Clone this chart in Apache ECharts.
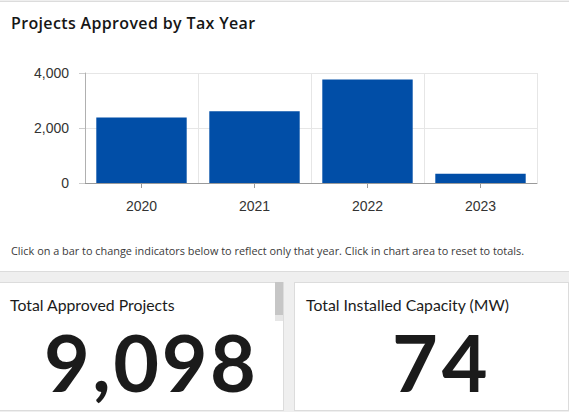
<!DOCTYPE html>
<html>
<head>
<meta charset="utf-8">
<script src="https://cdn.jsdelivr.net/npm/echarts@6/dist/echarts.min.js"></script>
<style>
  html, body { margin: 0; padding: 0; }
  body { width: 569px; height: 412px; background: #efefef; position: relative; overflow: hidden; font-family: Lato, "Noto Sans", sans-serif; color: #1b1b1b; }
  .panel { position: absolute; background: #fff; box-sizing: border-box; border: 1px solid #dcdcdc; }
  #top { left: -1px; top: 1px; width: 571px; height: 271px; }
  #title { position: absolute; left: 11px; top: 9.6px; font-family: "Open Sans", Lato, sans-serif; font-size: 16px; letter-spacing: 0.35px; font-weight: 600; white-space: nowrap; color: #161616; }
  #chart { position: absolute; left: 0; top: 0; width: 569px; height: 240px; }
  #note { position: absolute; left: 11px; top: 241.3px; font-family: "Open Sans", Lato, sans-serif; font-size: 10.9px; color: #3a3a3a; white-space: nowrap; }
  #left { left: -1px; top: 282px; width: 285px; height: 129px; }
  #right { left: 294px; top: 282px; width: 275px; height: 129px; }
  .ptitle { position: absolute; top: 13px; font-size: 15.8px; line-height: 1.2; white-space: nowrap; }
  .big { position: absolute; top: 39px; font-size: 79px; font-weight: 700; line-height: 1; white-space: nowrap; color: #1b1b1b; letter-spacing: 2.5px; }
  #thumb { position: absolute; left: 275px; top: 282px; width: 8px; height: 33px; background: #c6c6c6; }
  #track { position: absolute; left: 275px; top: 315px; width: 8px; height: 6px; background: #e6e6e6; }
</style>
</head>
<body>
<div class="panel" id="top">
  <div id="chart"></div>
  <div id="title"></div>
  <div id="note"></div>
</div>
<div class="panel" id="left">
  <div class="ptitle" id="lt" style="left:10px"></div>
  <div class="big" id="lv" style="left:44px"></div>
</div>
<div id="thumb"></div>
<div id="track"></div>
<div class="panel" id="right">
  <div class="ptitle" id="rt" style="left:11px"></div>
  <div class="big" id="rv" style="left:97px; letter-spacing: 4px"></div>
</div>
<script>
const chartTitle = "Projects Approved by Tax Year";
const noteText = "Click on a bar to change indicators below to reflect only that year. Click in chart area to reset to totals.";
const years = ["2020", "2021", "2022", "2023"];
const projectsApproved = [2385, 2610, 3765, 338];
const yTicks = [0, 2000, 4000];
const indicatorTitles = ["Total Approved Projects", "Total Installed Capacity (MW)"];
const indicatorValues = ["9,098", "74"];

document.getElementById('title').textContent = chartTitle;
document.getElementById('note').textContent = noteText;
document.getElementById('lt').textContent = indicatorTitles[0];
document.getElementById('rt').textContent = indicatorTitles[1];
document.getElementById('lv').textContent = indicatorValues[0];
document.getElementById('rv').textContent = indicatorValues[1];

const chart = echarts.init(document.getElementById('chart'), null, { renderer: 'svg' });
chart.setOption({
  animation: false,
  grid: { left: 85, top: 71, width: 452, height: 110, containLabel: false },
  xAxis: {
    type: 'category',
    data: years,
    axisLine: { lineStyle: { color: '#9a9a9a' } },
    axisTick: { show: true, alignWithLabel: true, length: 5, lineStyle: { color: '#9a9a9a' } },
    axisLabel: { margin: 16, fontSize: 14, color: '#333', fontFamily: 'Liberation Sans, Arial, sans-serif' },
    splitLine: { show: true, lineStyle: { color: '#e6e6e6' } }
  },
  yAxis: {
    type: 'value',
    min: yTicks[0],
    max: yTicks[yTicks.length - 1],
    interval: yTicks[1] - yTicks[0],
    axisLine: { show: true, lineStyle: { color: '#b0b0b0' } },
    axisTick: { show: true, length: 6, lineStyle: { color: '#cccccc' } },
    axisLabel: {
      margin: 16, fontSize: 14, color: '#333', fontFamily: 'Liberation Sans, Arial, sans-serif',
      formatter: v => v.toLocaleString('en-US')
    },
    splitLine: { show: true, lineStyle: { color: '#e6e6e6' } }
  },
  series: [{
    type: 'bar',
    data: projectsApproved,
    barWidth: '80%',
    itemStyle: { color: '#014ea7' }
  }]
});
</script>
</body>
</html>
